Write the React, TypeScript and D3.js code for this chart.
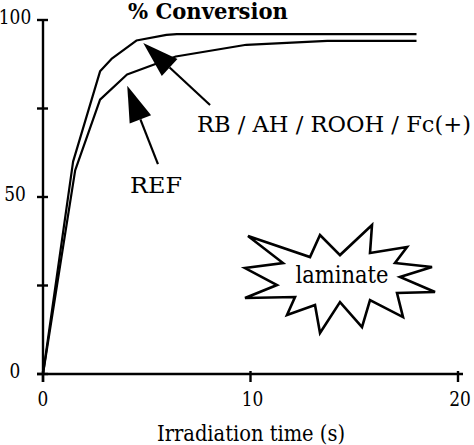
import React, { useRef, useEffect } from 'react'
import * as d3 from "d3";

// data: irradiation time (s) vs % conversion
const timeRB = [0, 1.45, 2.75, 3.3, 4.5, 5.95, 6.45, 18]
const convRB = [0, 60, 85.5, 89, 94.2, 95.8, 96, 96]
const timeREF = [0, 1.55, 2.75, 4.05, 6.4, 9.8, 13.7, 18]
const convREF = [0, 57.5, 77.5, 84.6, 89.7, 93, 94.1, 94.1]

const xTicks = [0, 10, 20]
const yTicks = [0, 25, 50, 75, 100]
const yTickLabels = ["0", "", "50", "", "100"]

const labelRB = "RB / AH / ROOH / Fc(+)"
const labelREF = "REF"
const titleText = "% Conversion"
const xLabelText = "Irradiation time (s)"
const burstText = "laminate"

// starburst outline, offsets in px around its anchor
const burstPoints: [number, number][] = [
  [-94, -42], [-32, -21], [-22, -43], [-2, -23], [30, -53], [28, -25],
  [65, -31], [53, -15], [90, -11], [58, -1], [93, 14], [55, 15],
  [61, 39], [28, 22], [20, 49], [-2, 24], [-22, 55], [-27, 27],
  [-55, 37], [-47, 19], [-97, 20], [-65, 7], [-97, -10], [-59, -15],
]

interface pt { x: number; y: number }

const W = 474
const H = 445
// only serif face that is really there; widths are squeezed with textLength
const FONT = "DejaVu Serif"

const App: React.FC = () => {
  const ref = useRef<SVGSVGElement | null>(null);

  useEffect(() => {
    if (!ref.current) return
    const svg = d3.select(ref.current)
    svg.selectAll("*").remove()

    const xScale = d3.scaleLinear().domain([0, 20]).range([43, 458])
    const yScale = d3.scaleLinear().domain([0, 100]).range([374, 20])

    svg.append("rect").attr("width", W).attr("height", H).attr("fill", "#fff")

    const addText = (x: number, y: number, s: string, size: number, width: number,
      anchor = "start", weight = "normal") => {
      if (!s) return
      svg.append("text")
        .attr("x", x).attr("y", y)
        .attr("text-anchor", anchor)
        .attr("font-family", FONT).attr("font-size", size).attr("font-weight", weight)
        .attr("textLength", width).attr("lengthAdjust", "spacingAndGlyphs")
        .text(s)
    }

    // axes
    const axes = svg.append("g").attr("stroke", "#000").attr("stroke-width", 2.4)
    axes.append("line")
      .attr("x1", xScale(0) - 6).attr("x2", xScale(20) + 5)
      .attr("y1", yScale(0)).attr("y2", yScale(0))
    axes.append("line")
      .attr("x1", xScale(0)).attr("x2", xScale(0))
      .attr("y1", yScale(100)).attr("y2", yScale(0) + 8)

    axes.selectAll(".yt").data(yTicks).enter().append("line")
      .attr("x1", xScale(0) - 6).attr("x2", xScale(0) + 5)
      .attr("y1", d => yScale(d)).attr("y2", d => yScale(d))
    axes.selectAll(".xt").data(xTicks).enter().append("line")
      .attr("x1", d => xScale(d)).attr("x2", d => xScale(d))
      .attr("y1", yScale(0) - 3).attr("y2", yScale(0) + 8)

    yTicks.forEach((d, i) => {
      const s = yTickLabels[i]
      addText(15, yScale(d) + 4, s, 20, 10.8 * s.length, "middle")
    })
    xTicks.forEach(d => {
      const s = String(d)
      addText(xScale(d) + (d === 0 ? 0 : 2), 406, s, 20, 10.8 * s.length, "middle")
    })

    addText(251, 441, xLabelText, 22, 188, "middle")
    addText(208, 19, titleText, 23, 160, "middle", "bold")

    // curves
    const line = d3.line<pt>().x(d => xScale(d.x)).y(d => yScale(d.y))
    const rb: pt[] = timeRB.map((t, i) => ({ x: t, y: convRB[i] }))
    const ref0: pt[] = timeREF.map((t, i) => ({ x: t, y: convREF[i] }))
    ;[rb, ref0].forEach(s => {
      svg.append("path")
        .attr("d", line(s))
        .attr("fill", "none")
        .attr("stroke", "#000")
        .attr("stroke-width", 2.2)
        .attr("stroke-linejoin", "round")
    })

    // arrows (tip, tail in data units)
    const arrows = [
      { tip: { x: 4.06, y: 81.4 }, tail: { x: 5.54, y: 59.3 } },
      { tip: { x: 4.83, y: 93.5 }, tail: { x: 8.05, y: 76 } },
    ]
    arrows.forEach(a => {
      const tx = xScale(a.tip.x), ty = yScale(a.tip.y)
      const sx = xScale(a.tail.x), sy = yScale(a.tail.y)
      const len = Math.hypot(tx - sx, ty - sy)
      const ux = (tx - sx) / len, uy = (ty - sy) / len
      const headL = 36, headW = 11.5
      const bx = tx - ux * headL, by = ty - uy * headL
      svg.append("line")
        .attr("x1", sx).attr("y1", sy).attr("x2", bx).attr("y2", by)
        .attr("stroke", "#000").attr("stroke-width", 2.2)
      svg.append("polygon")
        .attr("points", [
          [tx, ty],
          [bx - uy * headW, by + ux * headW],
          [bx + uy * headW, by - ux * headW],
        ].map(p => p.join(",")).join(" "))
        .attr("fill", "#000")
    })

    addText(197, 132, labelRB, 23, 274)
    addText(130, 193, labelREF, 23, 52)

    // starburst annotation
    const cx = xScale(14.41), cy = yScale(27.1)
    svg.append("polygon")
      .attr("points", burstPoints.map(p => `${cx + p[0]},${cy + p[1]}`).join(" "))
      .attr("fill", "#fff")
      .attr("stroke", "#000")
      .attr("stroke-width", 2.6)
      .attr("stroke-linejoin", "miter")
    addText(cx, 283, burstText, 24, 93, "middle")
  }, [])

  return (
    <svg
      ref={ref}
      width={W}
      height={H}
      style={{ position: "absolute", left: 0, top: 0, display: "block" }}
    />
  )
}

export default App
